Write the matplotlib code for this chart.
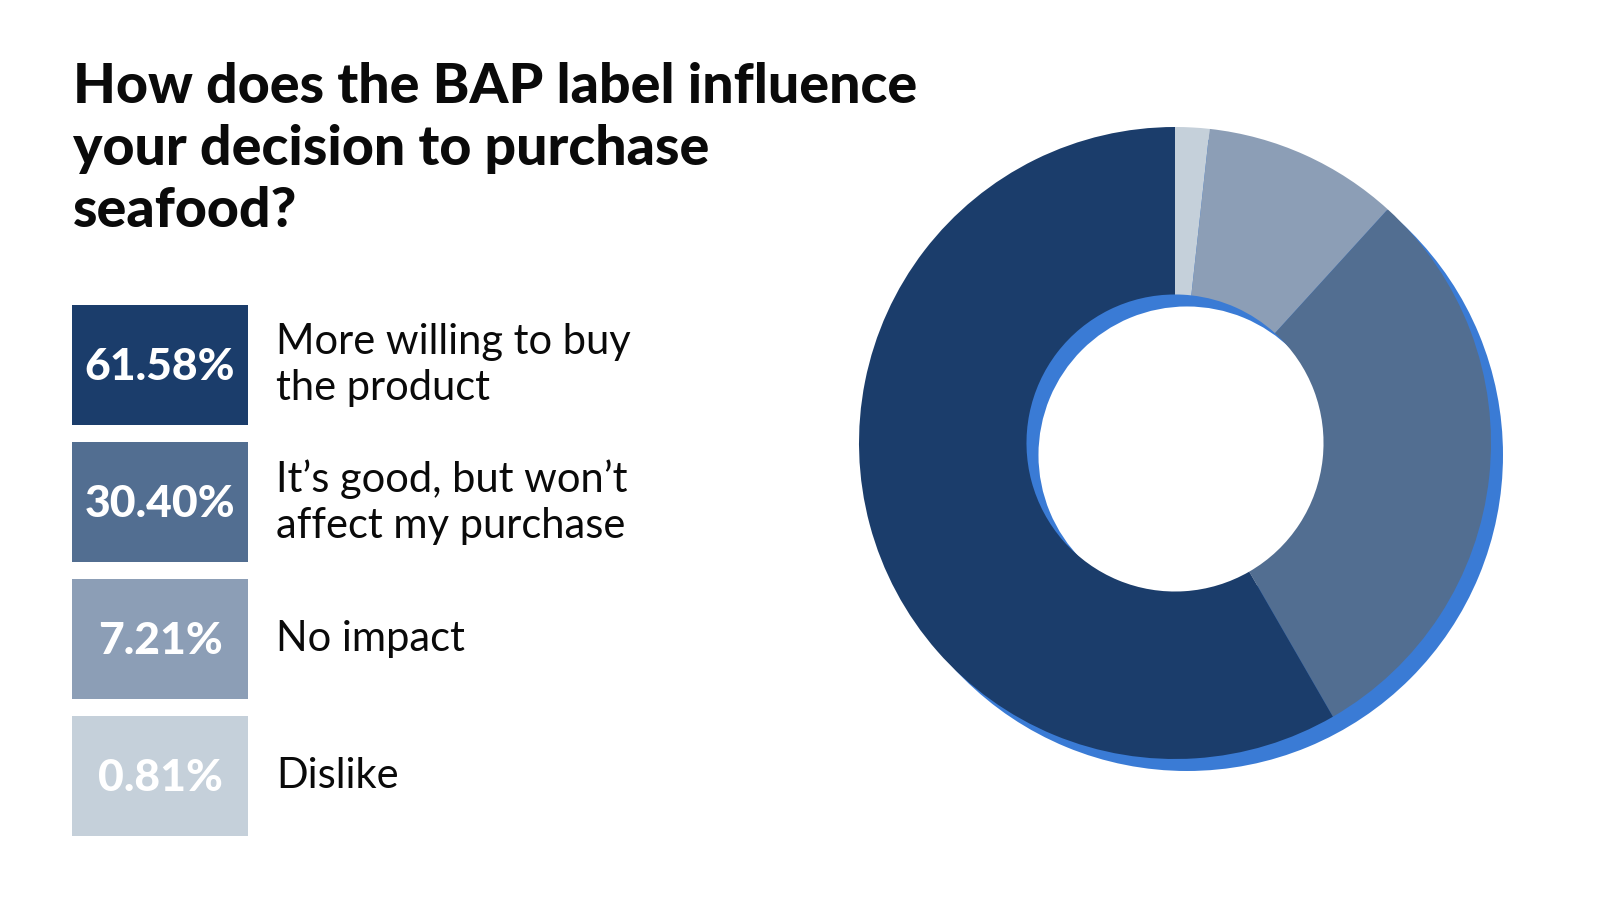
import matplotlib
matplotlib.use("Agg")
import matplotlib.pyplot as plt

# legend data (as printed)
categories = ["More willing to buy\nthe product",
              "It\u2019s good, but won\u2019t\naffect my purchase",
              "No impact",
              "Dislike"]
percent_labels = ["61.58%", "30.40%", "7.21%", "0.81%"]
colors = ["#1b3d6b", "#526e91", "#8c9eb6", "#c5d0da"]

# ring proportions as drawn in the source donut (clockwise from 12 o'clock)
ring_shares = [1.75, 10.0, 29.9, 58.3]
ring_colors = ["#c5d0da", "#8c9eb6", "#526e91", "#1b3d6b"]
shadow_color = "#3a7bd5"

title_lines = ["How does the BAP label influence",
               "your decision to purchase",
               "seafood?"]

plt.rcParams["font.family"] = ["Lato", "DejaVu Sans"]

fig = plt.figure(figsize=(16, 9), dpi=100)
fig.patch.set_facecolor("white")

# left panel in pixel coordinates
ax = fig.add_axes([0, 0, 1, 1])
ax.set_xlim(0, 1600)
ax.set_ylim(900, 0)
ax.axis("off")

for i, line in enumerate(title_lines):
    ax.text(73, 103 + i * 62, line, fontsize=40, fontweight="black",
            color="#0a0a0a", va="baseline", ha="left")

box_left, box_w, box_h = 72, 176, 120
y_pos = [365 + i * 137 for i in range(len(categories))]
ax.barh(y_pos, box_w, left=box_left, height=box_h, color=colors)
for y, pct, cat in zip(y_pos, percent_labels, categories):
    ax.text(box_left + box_w / 2, y + 2, pct, fontsize=32, fontweight="black",
            color="white", ha="center", va="center")
    ax.text(276, y, cat, fontsize=30, color="#0a0a0a", ha="left",
            va="center", linespacing=1.24)

# donut: centre (1175, 443) px, radius ~316 px
R = 316
half = 1.1 * R
pax = fig.add_axes([(1175 - half) / 1600, (900 - 443 - half) / 900,
                    2 * half / 1600, 2 * half / 900])
pax.axis("off")

off = 12 / R
pax.pie([1], colors=[shadow_color], radius=1, center=(off, -off),
        wedgeprops=dict(width=0.53, linewidth=0), startangle=90)
pax.pie(ring_shares, colors=ring_colors, radius=1, startangle=90,
        counterclock=False, wedgeprops=dict(width=0.53, linewidth=0))
pax.set_xlim(-1.1, 1.1)
pax.set_ylim(-1.1, 1.1)

fig.savefig("out.png", dpi=100, facecolor="white")
